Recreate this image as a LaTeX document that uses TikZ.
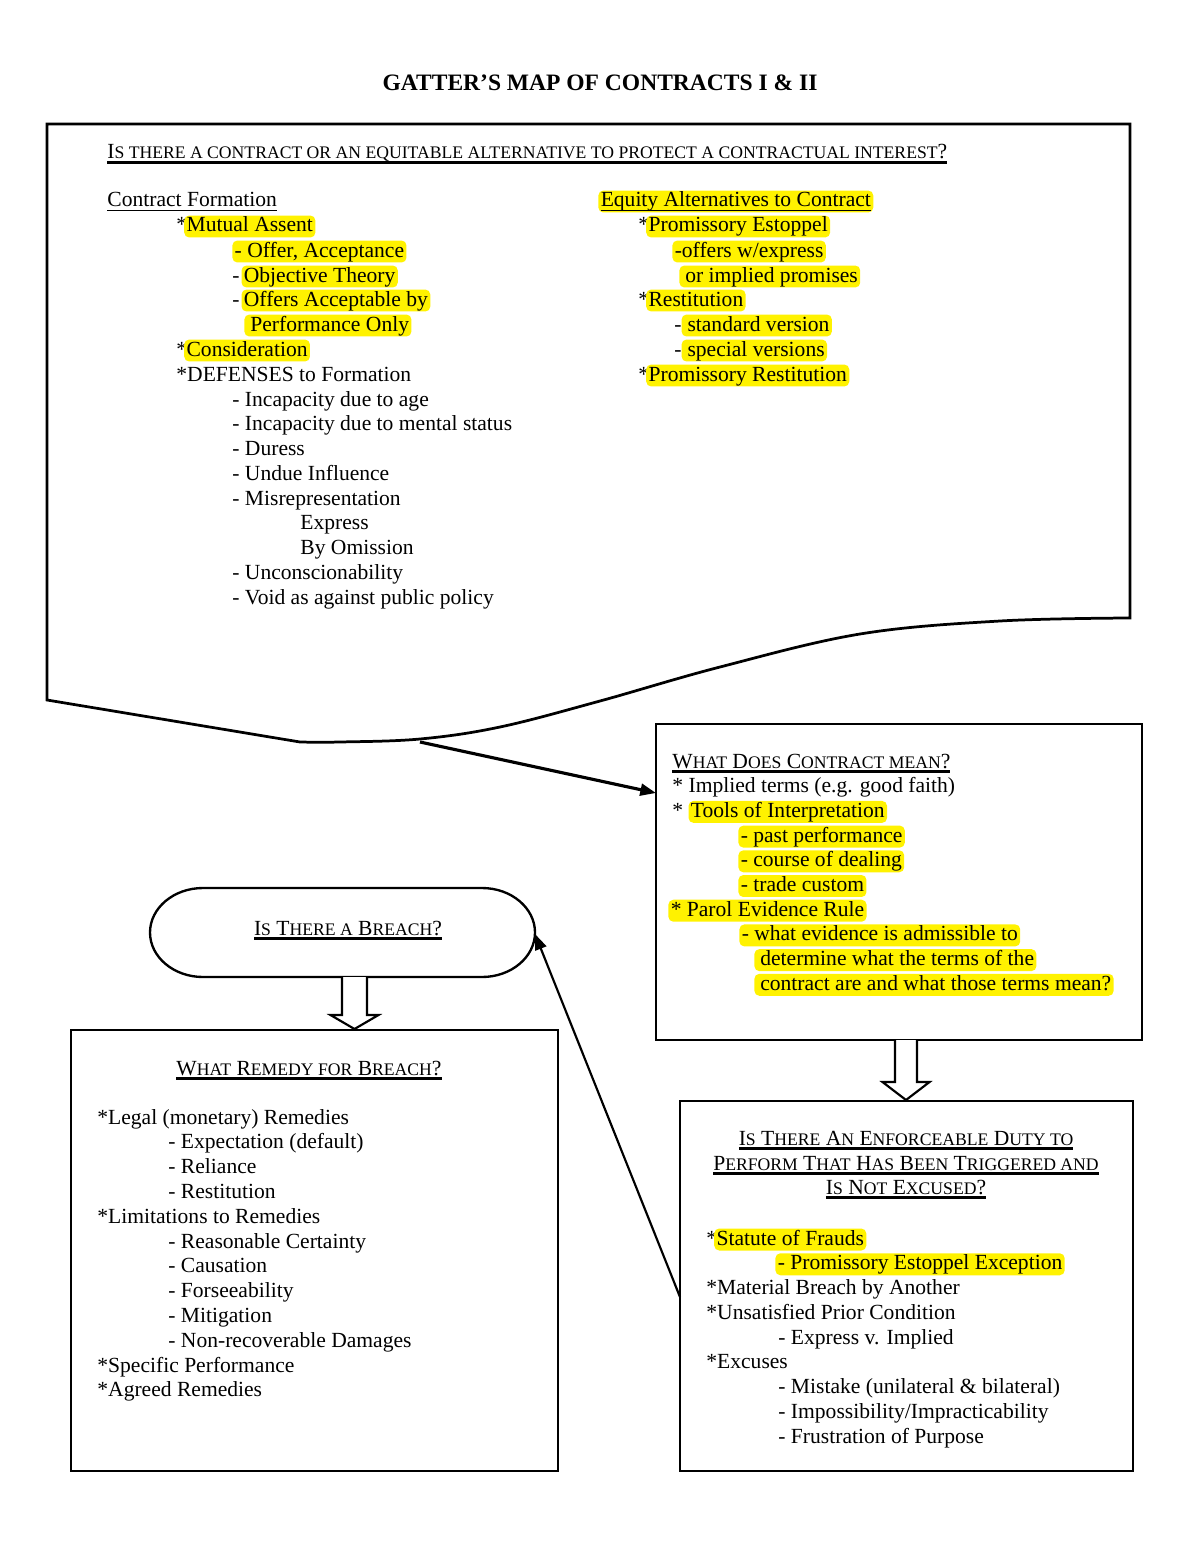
\documentclass[tikz,border=0pt]{standalone}
\usepackage{fontspec}
\setmainfont{Liberation Serif}
\usetikzlibrary{arrows.meta,fit,calc}
\newsavebox\ulbox
\newcommand\ulthick[1]{\sbox\ulbox{#1}\rlap{\rule[-2.6pt]{\wd\ulbox}{1.4pt}}\usebox\ulbox}
\newcommand\ulthin[1]{\sbox\ulbox{#1}\rlap{\rule[-2.0pt]{\wd\ulbox}{0.55pt}}\usebox\ulbox}
\newcommand\fsm{\fontsize{9pt}{10pt}\selectfont}
\newcommand\hl[1]{\tikz[baseline=0pt]\node[fill=yellow,rounded corners=2.5pt,inner xsep=1.2pt,inner ysep=0pt,text height=8.4pt,text depth=2.8pt,anchor=base,outer sep=0pt,draw=none] at (0,0) {#1};}
\begin{document}
\begin{tikzpicture}[x=0.51pt,y=-0.51pt,
  txt/.style={anchor=base west,inner sep=0pt,font=\fontsize{11pt}{13pt}\selectfont},
  boxst/.style={draw,line width=1.3pt,inner sep=0pt},
  bord/.style={draw,line width=1.4pt,line join=miter},
  blk/.style={draw,line width=1.1pt,fill=white,line join=miter},
  arr/.style={-{Triangle[length=8pt,width=6pt]}}]
\useasboundingbox (0,0) rectangle (1200,1553);

% title
\node[anchor=base,inner sep=0pt,font=\bfseries\fontsize{12pt}{14pt}\selectfont] (title) at (600,91) {GATTER’S MAP OF CONTRACTS I \& II};

% big wavy box
\draw[bord] (47,124) -- (1130,124) -- (1130,618)
  -- plot[smooth,tension=0.6] coordinates {(1130,618) (1000,621) (860,634) (720,667) (600,701) (500,727) (420,739) (340,742) (300,742)}
  -- (47,700) -- cycle;
\coordinate (b1out) at (420,742);

\node[txt] (h1) at (107,159) {\ulthick{I{\fsm S THERE A CONTRACT OR AN EQUITABLE ALTERNATIVE TO PROTECT A CONTRACTUAL INTEREST}?}};

% left column
\node[txt] (l1) at (107,207) {\ulthin{Contract Formation}};
\node[txt] (l2) at (176,232) {*\kern-1.5pt\hl{Mutual Assent}};
\node[txt] (l3) at (232,257) {\hl{- Offer, Acceptance}};
\node[txt] (l4) at (232,282) {-\kern1pt\hl{Objective Theory}};
\node[txt] (l5) at (232,306) {-\kern1pt\hl{Offers Acceptable by}};
\node[txt] (l6) at (244,331) {\hl{\,Performance Only}};
\node[txt] (l7) at (176,356) {*\kern-1.5pt\hl{Consideration}};
\node[txt] (l8) at (176,381) {*DEFENSES to Formation};
\node[txt] (l9) at (232,406) {- Incapacity due to age};
\node[txt] (l10) at (232,430) {- Incapacity due to mental status};
\node[txt] (l11) at (232,455) {- Duress};
\node[txt] (l12) at (232,480) {- Undue Influence};
\node[txt] (l13) at (232,505) {- Misrepresentation};
\node[txt] (l14) at (300,529) {Express};
\node[txt] (l15) at (300,554) {By Omission};
\node[txt] (l16) at (232,579) {- Unconscionability};
\node[txt] (l17) at (232,604) {- Void as against public policy};

% right column
\node[txt] (r1) at (598,207) {\hl{\ulthin{Equity Alternatives to Contract}}};
\node[txt] (r2) at (638,232) {*\kern-1.5pt\hl{Promissory Estoppel}};
\node[txt] (r3) at (672,257) {\hl{-offers w/express}};
\node[txt] (r4) at (679,282) {\hl{\,or implied promises}};
\node[txt] (r5) at (638,306) {*\kern-1.5pt\hl{Restitution}};
\node[txt] (r6) at (674,331) {-\hl{\,standard version}};
\node[txt] (r7) at (674,356) {-\hl{\,special versions}};
\node[txt] (r8) at (638,381) {*\kern-1.5pt\hl{Promissory Restitution}};

% box 2
\node[boxst,fit={(656,724) (1142,1040)}] (box2) {};
\coordinate (b2in) at (656,793);
\node[txt] (h2) at (672,768) {\ulthick{W{\fsm HAT} D{\fsm OES} C{\fsm ONTRACT MEAN}?}};
\node[txt] (m1) at (672,792.7) {* Implied terms (e.g. good faith)};
\node[txt] (m2) at (672,817.4) {* \hl{Tools of Interpretation}};
\node[txt] (m3) at (738,842.1) {\hl{- past performance}};
\node[txt] (m4) at (738,866.8) {\hl{- course of dealing}};
\node[txt] (m5) at (738,891.5) {\hl{- trade custom}};
\node[txt] (m6) at (668,916.2) {\hl{* Parol Evidence Rule}};
\node[txt] (m7) at (739,940.9) {\hl{- what evidence is admissible to}};
\node[txt] (m8) at (754,965.6) {\hl{\,determine what the terms of the}};
\node[txt] (m9) at (754,990.3) {\hl{\,contract are and what those terms mean?}};

% stadium
\draw[line width=1.2pt] (203,888) -- (482,888)
  .. controls (511.3,888) and (535,908) .. (535,932.5)
  .. controls (535,957) and (511.3,977) .. (482,977)
  -- (203,977)
  .. controls (173.7,977) and (150,957) .. (150,932.5)
  .. controls (150,908) and (173.7,888) .. (203,888) -- cycle;
\node[txt,anchor=base] (breach) at (348,935) {\ulthick{I{\fsm S} T{\fsm HERE A} B{\fsm REACH}?}};
\coordinate (brR) at (535,934);

% box 3
\node[boxst,fit={(71,1030) (558,1471)}] (box3) {};
\node[txt,anchor=base] (h3) at (309,1075) {\ulthick{W{\fsm HAT} R{\fsm EMEDY FOR} B{\fsm REACH}?}};
\node[txt] (q1) at (97,1124) {*Legal (monetary) Remedies};
\node[txt] (q2) at (168,1148.8) {- Expectation (default)};
\node[txt] (q3) at (168,1173.6) {- Reliance};
\node[txt] (q4) at (168,1198.4) {- Restitution};
\node[txt] (q5) at (97,1223.2) {*Limitations to Remedies};
\node[txt] (q6) at (168,1248) {- Reasonable Certainty};
\node[txt] (q7) at (168,1272.8) {- Causation};
\node[txt] (q8) at (168,1297.6) {- Forseeability};
\node[txt] (q9) at (168,1322.4) {- Mitigation};
\node[txt] (q10) at (168,1347.2) {- Non-recoverable Damages};
\node[txt] (q11) at (97,1372) {*Specific Performance};
\node[txt] (q12) at (97,1396.8) {*Agreed Remedies};

% box 4
\node[boxst,fit={(680,1101) (1133,1471)}] (box4) {};
\coordinate (b4out) at (680,1297);
\node[txt,anchor=base] (h4a) at (906,1145) {\ulthick{I{\fsm S} T{\fsm HERE} A{\fsm N} E{\fsm NFORCEABLE} D{\fsm UTY TO}}};
\node[txt,anchor=base] (h4b) at (906,1170) {\ulthick{P{\fsm ERFORM} T{\fsm HAT} H{\fsm AS} B{\fsm EEN} T{\fsm RIGGERED AND}}};
\node[txt,anchor=base] (h4c) at (906,1194) {\ulthick{I{\fsm S} N{\fsm OT} E{\fsm XCUSED}?}};
\node[txt] (s1) at (706,1245) {*\kern-1.5pt\hl{Statute of Frauds}};
\node[txt] (s2) at (775,1269.75) {\hl{- Promissory Estoppel Exception}};
\node[txt] (s3) at (706,1294.5) {*Material Breach by Another};
\node[txt] (s4) at (706,1319.25) {*Unsatisfied Prior Condition};
\node[txt] (s5) at (778,1344) {- Express v. Implied};
\node[txt] (s6) at (706,1368.75) {*Excuses};
\node[txt] (s7) at (778,1393.5) {- Mistake (unilateral \& bilateral)};
\node[txt] (s8) at (778,1418.25) {- Impossibility/Impracticability};
\node[txt] (s9) at (778,1443) {- Frustration of Purpose};

% block arrows
\coordinate (bA1) at (354.5,977);
\coordinate (bA2) at (354.5,1029);
\draw[blk] ($(bA1)+(-12.5,0)$) -- ($(bA2)+(-12.5,-14)$) -- ($(bA2)+(-24,-14)$) -- (bA2)
  -- ($(bA2)+(24,-14)$) -- ($(bA2)+(12.5,-14)$) -- ($(bA1)+(12.5,0)$);
\coordinate (bB1) at (906,1040);
\coordinate (bB2) at (906,1100);
\draw[blk] ($(bB1)+(-11,0)$) -- ($(bB2)+(-11,-18)$) -- ($(bB2)+(-23.5,-18)$) -- (bB2)
  -- ($(bB2)+(23.5,-18)$) -- ($(bB2)+(11,-18)$) -- ($(bB1)+(11,0)$);

% connectors
\draw[arr,line width=1.6pt] (b1out) -- (b2in);
\draw[arr,line width=1.1pt] (b4out) -- (brR);
\end{tikzpicture}
\end{document}
